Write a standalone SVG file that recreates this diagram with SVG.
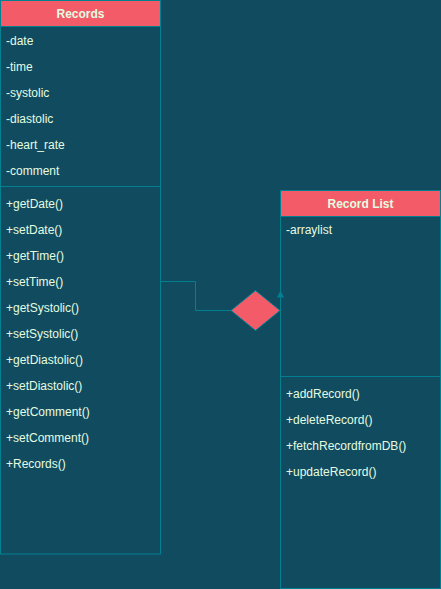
<svg xmlns="http://www.w3.org/2000/svg" width="441" height="589" viewBox="0 0 441 589">
<style>
.box{fill:#114B5F;stroke:#028090;stroke-width:1}
.hdr{fill:#F45B69;stroke:#028090;stroke-width:1}
.sep{stroke:#028090;stroke-width:1;fill:none}
.t{font-family:"Liberation Sans",Arial,sans-serif;font-size:12px;fill:#E4FDE1}
.h{font-family:"Liberation Sans",Arial,sans-serif;font-size:12px;font-weight:bold;fill:#E4FDE1;text-anchor:middle}
</style>
<rect x="0" y="0" width="441" height="589" fill="#114B5F"/>
<g id="records">
<rect class="box" x="0.5" y="0.5" width="160" height="553.5"/>
<rect class="hdr" x="0.5" y="0.5" width="160" height="26"/>
<text class="h" x="80.5" y="17.5">Records</text>
<text class="t" x="6" y="44.5">-date</text>
<text class="t" x="6" y="70.5">-time</text>
<text class="t" x="6" y="96.5">-systolic</text>
<text class="t" x="6" y="122.5">-diastolic</text>
<text class="t" x="6" y="148.5">-heart_rate</text>
<text class="t" x="6" y="174.5">-comment</text>
<line class="sep" x1="0.5" y1="186.5" x2="160.5" y2="186.5"/>
<text class="t" x="6" y="207.5">+getDate()</text>
<text class="t" x="6" y="233.5">+setDate()</text>
<text class="t" x="6" y="259.5">+getTime()</text>
<text class="t" x="6" y="285.5">+setTime()</text>
<text class="t" x="6" y="311.5">+getSystolic()</text>
<text class="t" x="6" y="337.5">+setSystolic()</text>
<text class="t" x="6" y="363.5">+getDiastolic()</text>
<text class="t" x="6" y="389.5">+setDiastolic()</text>
<text class="t" x="6" y="415.5">+getComment()</text>
<text class="t" x="6" y="441.5">+setComment()</text>
<text class="t" x="6" y="467.5">+Records()</text>
</g>
<g id="recordlist">
<rect class="box" x="280.5" y="190.5" width="160" height="398"/>
<rect class="hdr" x="280.5" y="190.5" width="160" height="26"/>
<text class="h" x="360.5" y="207.5">Record List</text>
<text class="t" x="286" y="233.5">-arraylist</text>
<line class="sep" x1="280.5" y1="376.5" x2="440.5" y2="376.5"/>
<text class="t" x="286" y="397.5">+addRecord()</text>
<text class="t" x="286" y="423.5">+deleteRecord()</text>
<text class="t" x="286" y="449.5">+fetchRecordfromDB()</text>
<text class="t" x="286" y="475.5">+updateRecord()</text>
</g>
<g id="connectors">
<polyline class="sep" points="160.5,281.5 195.5,281.5 195.5,310.5 231,310.5"/>
<polygon points="231,310.5 255.5,290.5 280,310.5 255.5,330.5" fill="#F45B69" stroke="#028090" stroke-width="1"/>
<polygon points="280.5,290.5 277,297.5 284,297.5" fill="#028090"/>
</g>
</svg>
